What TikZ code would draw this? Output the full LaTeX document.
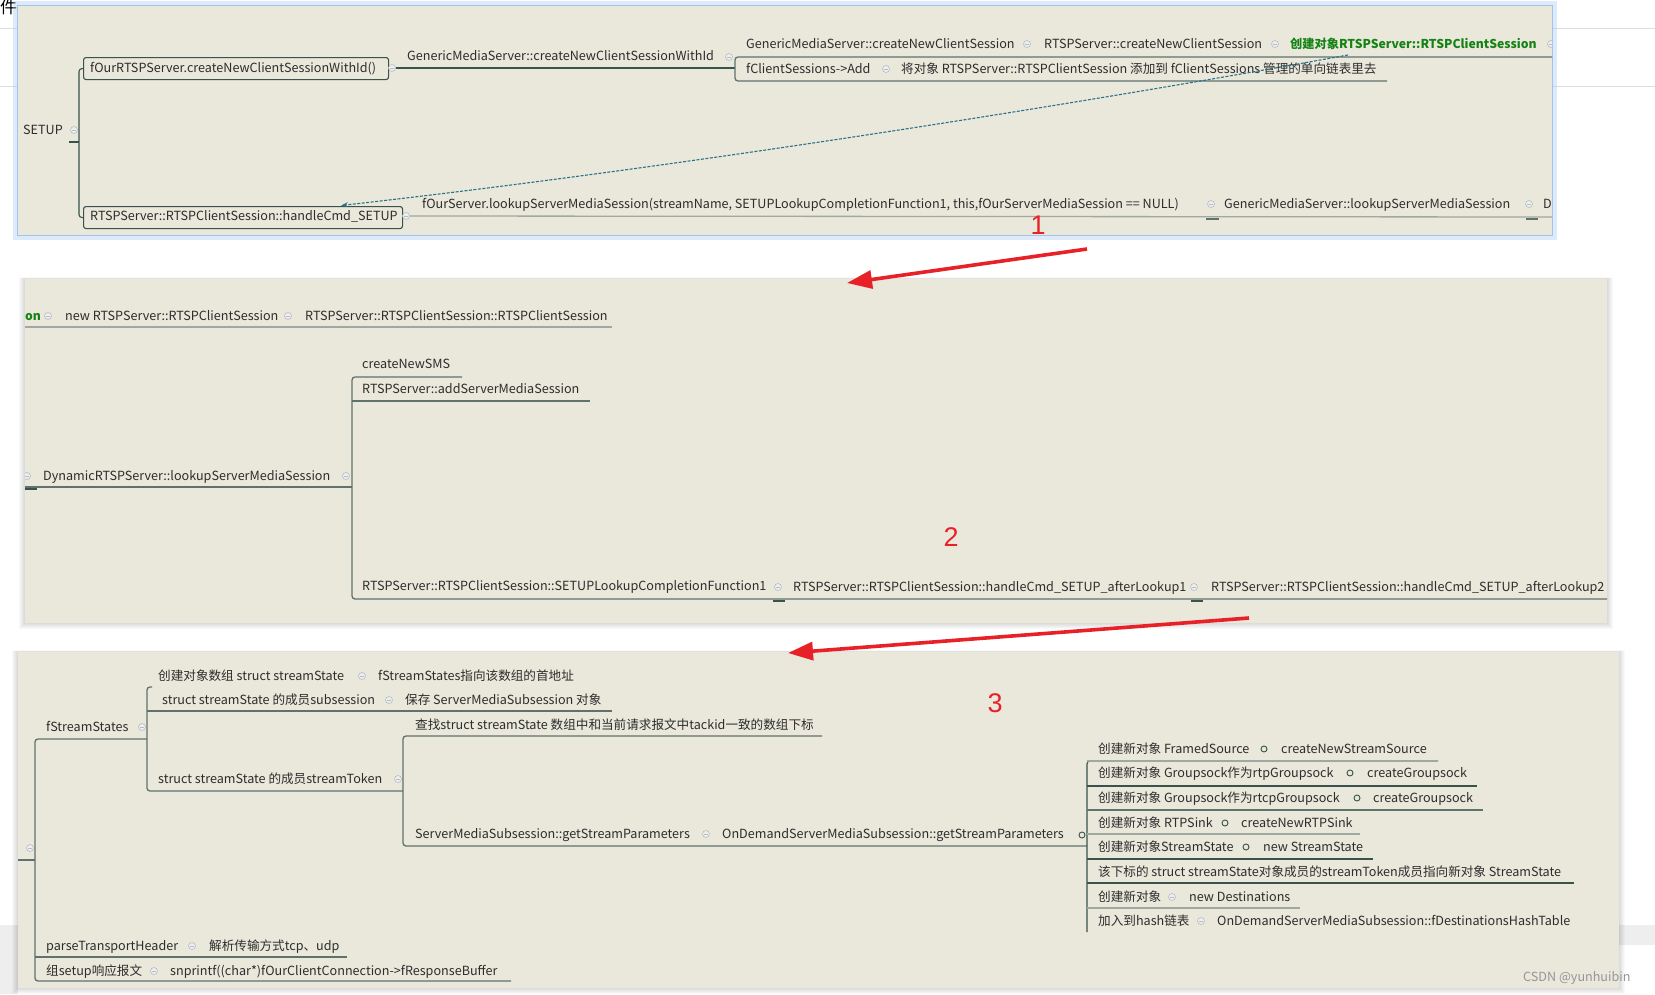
\documentclass[tikz,border=0pt]{standalone}
\usepackage{fontspec}
\setmainfont{Noto Sans CJK SC}
\newfontfamily\numfont{Liberation Sans}
\usetikzlibrary{arrows.meta,calc}
\definecolor{bgp}{RGB}{234,231,219}
\definecolor{txtc}{RGB}{45,45,45}
\definecolor{treeD}{RGB}{58,82,76}
\definecolor{treeM}{RGB}{95,115,108}
\definecolor{treeL}{RGB}{160,168,160}
\definecolor{icb}{RGB}{180,188,196}
\definecolor{icf}{RGB}{238,238,238}
\definecolor{greent}{RGB}{20,130,20}
\definecolor{redc}{RGB}{232,32,40}
\definecolor{dashc}{RGB}{40,115,135}
\definecolor{glow}{RGB}{160,195,240}
\definecolor{uigray}{RGB}{222,222,222}
\definecolor{wm}{RGB}{150,150,150}
\tikzset{
  txt/.style={anchor=base west, inner sep=0pt, font=\fontsize{12.6}{14}\selectfont, text=txtc},
  gtxt/.style={txt, text=greent, font=\fontsize{12.2}{14}\selectfont\bfseries},
  icl/.style={circle, minimum size=7pt, inner sep=0pt, draw=icb, fill=icf, line width=0.6pt,
    path picture={\draw[icb, line width=0.7pt] ([xshift=-1.8pt]path picture bounding box.center) -- ([xshift=1.8pt]path picture bounding box.center);}},
  icd/.style={circle, minimum size=6pt, inner sep=0pt, draw=treeD, line width=0.9pt},
  tl/.style={draw=treeD, line width=1.1pt, rounded corners=3pt},
  tm/.style={draw=treeM, line width=1.3pt, rounded corners=3pt},
  tg/.style={draw=treeL, line width=1.3pt},
  boxn/.style={draw=treeD, line width=1.1pt, rounded corners=2.5pt, fill=bgp},
  rednum/.style={text=redc, font=\numfont\fontsize{27}{30}\selectfont, inner sep=0pt},
  redarrow/.style={draw=redc, line width=3.6pt, -{Triangle[length=25pt,width=18pt]}},
}
\newcommand\tx[4]{\node[txt] (#1) at (#2,#3+4.5) {#4};}
\newcommand\ic[3]{\node[icl] (#1) at (#2,#3) {};}
\newcommand\icD[3]{\node[icd] (#1) at (#2,#3) {};}
\begin{document}
\begin{tikzpicture}[x=1pt,y=-1pt]
\useasboundingbox (0,0) rectangle (1655,994);
\fill[white] (0,0) rectangle (1655,994);
% background application fragments
\draw[uigray, line width=1pt] (0,28) -- (1655,28);
\draw[uigray, line width=1pt] (0,86) -- (1655,86);
\fill[uigray!50] (1619,925) rectangle (1655,945);
\fill[uigray!50] (0,925) rectangle (18,994);
\node[anchor=north west, inner sep=0pt, font=\fontsize{17}{18}\selectfont, text=black] (menu) at (0,-1) {件};

% ================= PANEL 1 =================
\foreach \i in {1,...,4} {\draw[glow, opacity=0.35, line width=1pt] (17-\i,5-\i) rectangle (1552+\i,235+\i);}
\fill[bgp] (17,5) rectangle (1552,235);
\draw[glow, line width=1pt] (17,5) rectangle (1552,235);
\begin{scope}
\clip (17,5) rectangle (1552,235);
\tx{setup}{23}{130}{SETUP}
\ic{isetup}{74}{130}
\coordinate (rs0) at (69,142);
\coordinate (rs1) at (79,142);
\draw[tl] (rs0) -- (rs1);
\node[boxn, minimum width=305pt, minimum height=22pt, anchor=north west] (b1) at (83,57) {};
\tx{b1t}{90}{68}{fOurRTSPServer.createNewClientSessionWithId()}
\node[boxn, minimum width=319pt, minimum height=22pt, anchor=north west] (b2) at (83,206) {};
\tx{b2t}{90}{216}{RTSPServer::RTSPClientSession::handleCmd\_SETUP}
\draw[tl] (b1.west) -| (rs1) |- (b2.west);
\ic{ib1}{392}{68}
\coordinate (br2) at (735,68);
\draw[tl, rounded corners=0pt] (ib1.east) -- (br2);
\tx{gms}{407}{56}{GenericMediaServer::createNewClientSessionWithId}
\ic{igms}{729}{57}
\coordinate (br2top) at (735,57);
\coordinate (br2bot) at (735,81);
\draw[tm] (1560,57) -- (br2top) -- (br2bot) -- (1387,81);
\tx{r1a}{746}{44}{GenericMediaServer::createNewClientSession}
\ic{ir1a}{1027}{44}
\tx{r1b}{1044}{44}{RTSPServer::createNewClientSession}
\ic{ir1b}{1275}{44}
\node[gtxt] (r1c) at (1290,48.5) {创建对象RTSPServer::RTSPClientSession};
\ic{ir1c}{1551}{44}
\tx{r2a}{746}{69}{fClientSessions->Add}
\ic{ir2a}{886}{69}
\tx{r2b}{901}{69}{将对象 RTSPServer::RTSPClientSession 添加到 fClientSessions 管理的单向链表里去}
\ic{ib2}{406}{216}
\draw[tg] (ib2.east) -- (1560,217);
\tx{lk}{422}{204}{fOurServer.lookupServerMediaSession(streamName, SETUPLookupCompletionFunction1, this,fOurServerMediaSession == NULL)}
\ic{ilk}{1211}{204}
\tx{lk2}{1224}{204}{GenericMediaServer::lookupServerMediaSession}
\ic{ilk2}{1529}{204}
\tx{lk3}{1543}{204}{D}
\draw[treeM, line width=1.2pt] (1206,219) -- (1219,219);
\draw[treeM, line width=1.2pt] (1526,219) -- (1538,219);
% dashed relation arrow
\coordinate (dstart) at (1348,55);
\coordinate (dend) at (341,205.5);
\draw[dashc, line width=1.1pt, dash pattern=on 3pt off 1.5pt, -{Stealth[length=7pt,width=5pt]}] (dstart) .. controls (1100,100) and (700,165) .. (dend);
\end{scope}
\node[rednum] (n1) at (1038,225) {1};

% ================= PANEL 2 =================
\foreach \i in {1,...,6} {\fill[black, opacity=0.025] (25-\i,279-0.3*\i) rectangle (1607+\i,623+\i);}
\fill[bgp] (25,279) rectangle (1607,623);
\begin{scope}
\clip (25,279) rectangle (1607,623);
\node[gtxt] (q0) at (25,320.5) {on};
\ic{iq0}{48}{316}
\tx{q1}{65}{316}{new RTSPServer::RTSPClientSession}
\ic{iq1}{288}{316}
\tx{q2}{305}{316}{RTSPServer::RTSPClientSession::RTSPClientSession}
\draw[tg] (25,327) -- (612,327);
\ic{idyn0}{27}{476}
\tx{dyn}{43}{476}{DynamicRTSPServer::lookupServerMediaSession}
\ic{idyn}{346}{476}
\coordinate (pb) at (352,487);
\draw[tm, rounded corners=0pt] (25,487) -- (pb);
\draw[treeD, line width=1.2pt] (25,489) -- (37,489);
\tx{sms}{362}{364}{createNewSMS}
\tx{add}{362}{389}{RTSPServer::addServerMediaSession}
\tx{cf}{362}{586}{RTSPServer::RTSPClientSession::SETUPLookupCompletionFunction1}
\ic{icf}{778}{587}
\tx{al1}{793}{587}{RTSPServer::RTSPClientSession::handleCmd\_SETUP\_afterLookup1}
\ic{ial1}{1194}{587}
\tx{al2}{1211}{587}{RTSPServer::RTSPClientSession::handleCmd\_SETUP\_afterLookup2}
\draw[tm] (462,377) -- (352,377) -- (352,599) -- (1615,599);
\draw[tm, rounded corners=0pt] (352,401) -- (590,401);
\draw[treeD, line width=1.2pt] (773,601) -- (785,601);
\draw[treeD, line width=1.2pt] (1191,601) -- (1203,601);
\end{scope}
\node[rednum] (n2) at (951,537) {2};

% ================= PANEL 3 =================
\foreach \i in {1,...,6} {\fill[black, opacity=0.025] (18-\i,652-0.3*\i) rectangle (1619+\i,988+\i);}
\fill[bgp] (18,652) rectangle (1619,988);
\ic{iroot}{30}{848}
\draw[tm, rounded corners=0pt] (18,860) -- (35,860);
\tx{fss}{46}{727}{fStreamStates}
\ic{ifss}{142}{727}
\draw[tm] (147,739) -- (35,739) -- (35,981) -- (511,981);
\draw[tm, rounded corners=0pt] (35,957) -- (347,957);
% sub bracket 2
\draw[tm] (152,687) -- (147,687) -- (147,791) -- (403,791);
\draw[tm, rounded corners=0pt] (147,711) -- (612,711);
\tx{c1}{158}{676}{创建对象数组 struct streamState}
\ic{ic1}{362}{676}
\tx{c1b}{378}{676}{fStreamStates指向该数组的首地址}
\tx{c2}{162}{700}{struct streamState 的成员subsession}
\ic{ic2}{389}{700}
\tx{c2b}{405}{700}{保存 ServerMediaSubsession 对象}
\tx{c3}{158}{779}{struct streamState 的成员streamToken}
\ic{ic3}{398}{779}
% sub bracket 3
\draw[tm] (822,736) -- (403,736) -- (403,846) -- (1087,846);
\tx{d1}{415}{725}{查找struct streamState 数组中和当前请求报文中tackid一致的数组下标}
\tx{d2}{415}{834}{ServerMediaSubsession::getStreamParameters}
\ic{id2}{706}{834}
\tx{d2b}{722}{834}{OnDemandServerMediaSubsession::getStreamParameters}
\icD{id2b}{1082}{835}
% sub bracket 4
\draw[tl] (1438,761) -- (1087,761) -- (1087,932);
\draw[tg] (1087,761) -- (1438,761);
\tx{e1}{1098}{749}{创建新对象 FramedSource}
\icD{ie1}{1264}{749}
\tx{e1b}{1281}{749}{createNewStreamSource}
\tx{e2}{1098}{773}{创建新对象 Groupsock作为rtpGroupsock}
\icD{ie2}{1350}{773}
\tx{e2b}{1367}{773}{createGroupsock}
\draw[tl, rounded corners=0pt] (1087,786) -- (1477,786);
\tx{e3}{1098}{798}{创建新对象 Groupsock作为rtcpGroupsock}
\icD{ie3}{1357}{798}
\tx{e3b}{1373}{798}{createGroupsock}
\draw[tm, rounded corners=0pt] (1087,810) -- (1483,810);
\tx{e4}{1098}{823}{创建新对象 RTPSink}
\icD{ie4}{1225}{823}
\tx{e4b}{1241}{823}{createNewRTPSink}
\draw[tg] (1087,834) -- (1360,834);
\tx{e5}{1098}{847}{创建新对象StreamState}
\icD{ie5}{1246}{847}
\tx{e5b}{1263}{847}{new StreamState}
\draw[tl, rounded corners=0pt] (1087,859) -- (1373,859);
\tx{e6}{1098}{872}{该下标的 struct streamState对象成员的streamToken成员指向新对象 StreamState}
\draw[tl, rounded corners=0pt] (1087,883) -- (1574,883);
\tx{e7}{1098}{897}{创建新对象}
\ic{ie7}{1172}{897}
\tx{e7b}{1189}{897}{new Destinations}
\draw[tg] (1087,908) -- (1300,908);
\tx{e8}{1098}{921}{加入到hash链表}
\ic{ie8}{1201}{921}
\tx{e8b}{1217}{921}{OnDemandServerMediaSubsession::fDestinationsHashTable}
% bottom rows
\tx{pth}{46}{946}{parseTransportHeader}
\ic{ipth}{192}{946}
\tx{pthb}{209}{946}{解析传输方式tcp、udp}
\tx{rsp}{46}{971}{组setup响应报文}
\ic{irsp}{154}{971}
\tx{rspb}{170}{971}{snprintf((char*)fOurClientConnection->fResponseBuffer}
\node[rednum] (n3) at (995,703) {3};
\node[anchor=base west, inner sep=0pt, text=wm, font=\fontsize{12.6}{14}\selectfont] (wmk) at (1523,981.5) {CSDN @yunhuibin};

% ================= red arrows =================
\coordinate (a1t) at (1087,249);
\coordinate (a1h) at (847,283);
\draw[redarrow] (a1t) -- (a1h);
\coordinate (a2t) at (1249,618);
\coordinate (a2h) at (788,653);
\draw[redarrow] (a2t) -- (a2h);
\end{tikzpicture}
\end{document}
